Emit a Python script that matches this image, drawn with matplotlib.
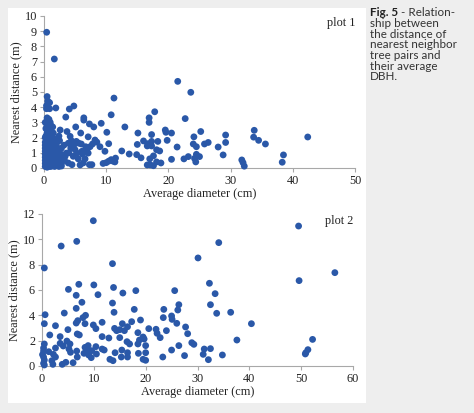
import numpy as np
import matplotlib.pyplot as plt

# plot 1 : nearest neighbour distance vs average DBH
p1_dbh = [
    0.2, 0.2, 0.2, 0.2, 0.2, 0.2, 0.2, 0.2, 0.2, 0.2, 0.3, 0.3, 0.2,
    0.5, 0.5, 0.5, 0.5, 0.5, 0.5, 0.5, 0.5, 0.5, 0.5, 0.5, 0.5, 0.5, 0.5, 0.5, 0.5, 0.4, 0.4, 0.6, 0.5, 0.6,
    0.8, 0.8, 0.8, 0.8, 0.8, 0.8, 0.8, 0.8, 0.8, 0.8, 0.8, 0.8, 0.8, 0.8, 0.8, 0.9, 0.9,
    1.1, 1.1, 1.1, 1.1, 1.1, 1.1, 1.1, 1.1, 1.1, 1.1, 1.1, 1.0,
    1.4, 1.4, 1.4, 1.4, 1.4, 1.4, 1.4, 1.4, 1.5, 1.4,
    1.7, 1.7, 1.7, 1.7, 1.7, 1.7, 1.7,
    2.0, 2.0, 2.0, 2.0, 2.0,
    2.4, 2.4, 2.4, 2.4, 2.5, 2.4,
    2.8, 2.8, 2.8, 2.8, 2.6,
    0.43, 1.66, 1.9,
    3.5, 4.07, 4.8, 5.1, 5.9, 6.4, 6.4, 7.3, 8.0, 7.1, 9.2, 10.1, 11.25, 10.8, 10.4,
    8.2, 7.8, 7.4, 6.7, 6.0, 5.6, 4.8, 4.2, 3.9, 4.3, 3.6, 3.4, 3.9, 4.5, 2.8, 5.8,
    6.3, 7.3, 7.7, 7.1, 6.2, 5.3, 4.7, 9.0, 9.8, 3.2, 3.3, 4.0, 5.0, 5.5, 6.6, 8.5,
    9.5, 10.0, 10.4, 10.8, 11.1, 11.4, 11.5, 5.2, 6.1, 6.9, 3.7, 4.4,
    12.5, 13.0, 13.7, 14.9, 15.6, 15.0, 15.1, 16.0, 16.9, 16.9, 17.8, 17.3, 16.6, 17.3,
    16.7, 17.3, 18.3, 17.6, 17.0, 16.6, 17.1, 17.6, 18.1, 18.8, 18.1, 18.6, 19.5, 19.6,
    19.8, 20.5, 21.4, 20.5, 22.5, 23.2, 21.5, 23.6, 22.7, 24.1, 25.2, 24.0, 24.5, 25.8,
    26.4, 28.0, 29.2, 29.2, 28.8, 24.5, 24.2, 25.0, 24.4, 31.8, 32.0, 32.2, 33.8, 33.7,
    34.5, 35.6, 42.4, 38.5, 38.3,
]
p1_dist = [
    0.1, 0.3, 0.5, 0.7, 0.9, 1.1, 1.3, 1.5, 1.7, 2.0, 2.1, 2.6, 3.0,
    0.05, 0.2, 0.4, 0.6, 0.8, 1.0, 1.2, 1.4, 1.6, 1.8, 2.0, 2.3, 2.5, 2.8, 3.1, 3.3, 3.9, 4.1, 4.4, 4.7, 4.0,
    0.1, 0.3, 0.5, 0.7, 0.9, 1.1, 1.3, 1.5, 1.7, 1.9, 2.2, 2.4, 2.7, 3.0, 3.2, 3.9, 4.3,
    0.1, 0.35, 0.6, 0.85, 1.1, 1.35, 1.6, 1.85, 2.1, 2.4, 2.8, 3.0,
    0.2, 0.45, 0.7, 0.95, 1.2, 1.45, 1.7, 2.0, 2.3, 2.7,
    0.1, 0.4, 0.7, 1.0, 1.3, 1.6, 1.9,
    0.2, 0.5, 0.8, 1.2, 1.5,
    0.1, 0.4, 0.7, 1.0, 1.8, 2.1,
    0.3, 0.6, 0.9, 1.3, 2.5,
    8.93, 7.17, 3.95,
    3.35, 3.88, 4.08, 2.7, 2.3, 3.3, 3.15, 2.9, 2.7, 2.05, 2.94, 2.35, 4.6, 3.5, 1.6,
    1.84, 1.58, 1.4, 1.4, 1.58, 1.63, 1.51, 2.08, 1.63, 1.3, 0.98, 0.77, 0.33, 0.22, 0.13, 0.2,
    0.33, 0.22, 0.22, 0.98, 0.9, 0.98, 0.77, 1.4, 1.1, 1.5, 0.5, 1.0, 1.2, 0.6, 0.6, 1.7,
    0.3, 0.35, 0.45, 0.55, 0.45, 0.4, 0.65, 1.75, 1.1, 1.2, 2.4, 1.8,
    1.12, 2.7, 0.92, 0.88, 0.67, 1.55, 2.3, 1.78, 3.3, 3.0, 3.7, 2.2, 1.45, 1.45,
    1.6, 1.75, 1.75, 0.8, 0.6, 0.2, 0.2, 0.15, 0.4, 0.33, 1.2, 1.12, 2.5, 2.35,
    1.82, 2.3, 1.38, 0.57, 0.6, 0.75, 5.7, 4.98, 3.25, 2.05, 2.4, 1.58, 1.4, 1.58,
    1.68, 1.38, 2.17, 1.68, 0.86, 0.9, 0.63, 0.75, 0.4, 0.53, 0.35, 0.12, 2.48, 2.03,
    1.82, 1.58, 2.04, 0.86, 0.38,
]

# plot 2
p2_dbh = [
    9.9, 49.5, 3.7, 6.7, 34.1, 30.1, 13.6, 0.45, 56.5, 49.6, 7.1, 10.0, 32.3, 5.1,
    13.8, 18.1, 25.6, 15.6, 33.4, 6.6, 10.8, 7.7, 13.6, 26.4, 32.5, 6.6, 17.8, 23.5,
    26.2, 13.9, 4.3, 33.7, 36.4, 0.6, 8.4, 7.9, 25.0, 23.4, 25.1, 6.9, 19.0, 11.6,
    17.3, 6.6, 8.3, 0.45, 15.5, 26.0, 40.4, 2.6, 9.9, 16.5, 10.4, 14.0, 20.6, 22.0,
    27.7, 5.0, 15.0, 15.9, 24.0, 14.4, 6.8, 7.2, 18.5, 22.2, 28.1, 1.5, 3.5, 11.6,
    12.9, 15.0, 19.5, 22.8, 37.6, 52.2, 4.8, 18.8, 19.7, 3.5, 28.9, 29.3, 5.4, 0.45,
    16.4, 16.9, 18.5, 8.9, 4.1, 26.4, 20.0, 10.4, 8.3, 2.6, 0.3, 5.2, 11.6, 12.0,
    31.3, 32.5, 51.3, 8.9, 9.6, 6.7, 15.4, 25.0, 0.3, 1.3, 5.5, 50.9, 31.1, 8.1,
    10.5, 14.1, 18.6, 20.0, 50.8, 0.1, 2.2, 16.5, 9.0, 34.8, 0.3, 2.6, 6.8, 9.5,
    15.3, 16.5, 23.3, 27.5, 13.1, 13.7, 19.5, 20.0, 32.1, 0.45, 1.9, 6.0, 4.6, 3.9,
    0.3, 2.1, 0.45,
]
p2_dist = [
    11.47, 11.05, 9.47, 9.84, 9.74, 8.53, 8.08, 7.74, 7.37, 6.74, 6.45, 6.4, 6.53, 6.05,
    6.2, 5.95, 5.95, 5.76, 5.71, 5.58, 5.63, 5.03, 4.97, 4.84, 4.84, 4.55, 4.47, 4.47,
    4.42, 4.24, 4.18, 4.16, 4.24, 4.05, 4.0, 3.82, 3.95, 3.82, 3.68, 3.58, 3.63, 3.45,
    3.5, 3.39, 3.34, 3.34, 3.34, 3.37, 3.34, 3.18, 3.24, 3.1, 2.95, 2.97, 2.95, 2.9,
    3.08, 2.87, 2.87, 2.79, 2.79, 2.79, 2.53, 2.45, 2.63, 2.58, 2.55, 2.45, 2.32, 2.32,
    2.21, 2.24, 2.29, 2.24, 2.05, 2.1, 1.97, 2.05, 2.13, 1.79, 1.84, 1.71, 1.74, 1.74,
    1.92, 1.74, 1.74, 1.61, 1.58, 1.61, 1.61, 1.53, 1.47, 1.42, 1.42, 1.34, 1.34, 1.26,
    1.34, 1.37, 1.29, 1.26, 1.21, 1.18, 1.26, 1.26, 1.18, 1.13, 1.08, 1.05, 0.92, 1.0,
    0.95, 1.05, 1.0, 1.05, 0.95, 0.9, 0.92, 1.05, 0.87, 0.87, 0.71, 0.71, 0.71, 0.66,
    0.71, 0.71, 0.71, 0.82, 0.53, 0.42, 0.53, 0.45, 0.5, 0.47, 0.42, 0.26, 0.29, 0.13,
    0.21, 0.13, 0.08,
]

W, H = 474, 413
dot_color = '#2a58a8'
axis_color = '#a8a8a8'
serif = 'Liberation Serif'

fig = plt.figure(figsize=(W / 100, H / 100), dpi=100)
fig.patch.set_facecolor('#eeeeee')
# white panel holding the two plots
fig.add_artist(plt.Rectangle((8 / W, 10 / H), 358 / W, 395 / H, transform=fig.transFigure,
                             facecolor='white', edgecolor='none', zorder=0))

def style_axes(ax, xmax, xstep, ymax, ystep, name, xlab, ylab):
    ax.set_xlim(0, xmax)
    ax.set_ylim(0, ymax)
    ax.set_xticks(np.arange(0, xmax + 1, xstep))
    ax.set_yticks(np.arange(0, ymax + 1, ystep))
    ax.patch.set_alpha(0)
    for s in ['top', 'right']:
        ax.spines[s].set_visible(False)
    for s in ['left', 'bottom']:
        ax.spines[s].set_color(axis_color)
        ax.spines[s].set_linewidth(0.8)
    ax.tick_params(direction='out', length=3, width=0.8, color=axis_color,
                   labelsize=8.8, pad=2, labelcolor='#222222')
    for lab in ax.get_xticklabels() + ax.get_yticklabels():
        lab.set_fontfamily(serif)
    ax.set_xlabel(xlab, fontsize=8.8, family=serif, color='#222222', labelpad=1)
    ax.set_ylabel(ylab, fontsize=8.8, family=serif, color='#222222', labelpad=2)
    ax.text(0.955, 0.955, name, transform=ax.transAxes, ha='center', va='center',
            fontsize=8.8, family=serif, color='#222222')

ax1 = fig.add_axes([44 / W, (H - 168) / H, 311 / W, 152 / H])
ax1.scatter(p1_dbh, p1_dist, s=24, color=dot_color, edgecolors='none', clip_on=False, zorder=3)
style_axes(ax1, 50, 10, 10, 1, 'plot 1', 'Average diameter (cm)', 'Nearest distance (m)')

ax2 = fig.add_axes([42 / W, (H - 366) / H, 311 / W, 152 / H])
ax2.scatter(p2_dbh, p2_dist, s=24, color=dot_color, edgecolors='none', clip_on=False, zorder=3)
style_axes(ax2, 60, 10, 12, 2, 'plot 2', 'Average diameter (cm)', 'Nearest distance (m)')

# caption on the right
cap_font = 'Lato'
cap_x = 370 / W
cap_size = 8.4
lines = ['ship between', 'the distance of', 'nearest neighbor', 'tree pairs and',
         'their average', 'DBH.']
t0 = fig.text(cap_x, 1 - 13 / H, 'Fig. 5', fontsize=cap_size, family=cap_font, weight='bold',
              color='#222222', va='center')
fig.canvas.draw()
bb = t0.get_window_extent(fig.canvas.get_renderer())
fig.text(bb.x1 / W, 1 - 13 / H, ' - Relation-', fontsize=cap_size, family=cap_font,
         color='#333333', va='center')
for i, line in enumerate(lines):
    fig.text(cap_x, 1 - (13 + 10.6 * (i + 1)) / H, line, fontsize=cap_size, family=cap_font,
             color='#333333', va='center')

fig.savefig('out.png', dpi=100, facecolor=fig.get_facecolor())
